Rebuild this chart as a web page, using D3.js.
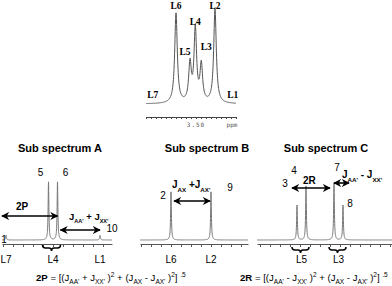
<!DOCTYPE html>
<html>
<head>
<meta charset="utf-8">
<script src="https://cdn.jsdelivr.net/npm/d3@7"></script>
<style>
body { margin: 0; background: #fff; }
text { white-space: pre; }
</style>
</head>
<body>
<script>
// full AA'XX' multiplet: line names, shift (ppm), intensity
var topLines = ["L7", "L6", "L5", "L4", "L3", "L2", "L1"];
var topShift = [3.5866, 3.540, 3.512, 3.5014, 3.4894, 3.462, 3.4266];
var topHeight = [0, 90, 38, 73, 37, 94, 0];
var topTicks = [3.50];

// sub spectra: transition numbers, position (Hz from centre), intensity
var subALines = ["1", "5", "6", "10"];
var subAPos = [-47, -4.5, 4.5, 47];
var subAInt = [0.08, 1, 1, 0.08];
var subALabels = ["L7", "L4", "L1"];
var subALabelPos = [-47, 0, 47];

var subBLines = ["2", "9"];
var subBPos = [-20, 20];
var subBInt = [0.83, 0.83];
var subBLabels = ["L6", "L2"];
var subBLabelPos = [-20, 20];

var subCLines = ["3", "4", "7", "8"];
var subCPos = [-23, -14, 14, 23];
var subCInt = [0.6, 0.93, 0.98, 0.6];
var subCLabels = ["L5", "L3"];
var subCLabelPos = [-18.5, 18.5];

var titles = ["Sub spectrum A", "Sub spectrum B", "Sub spectrum C"];

var W = 392, H = 286;
var sans = "Arial, 'Liberation Sans', sans-serif";
var serif = "'Times New Roman', 'Liberation Serif', serif";

var svg = d3.select("body").append("svg")
    .attr("width", W)
    .attr("height", H);

var defs = svg.append("defs");
defs.append("marker")
    .attr("id", "arr")
    .attr("viewBox", "0 0 10 10")
    .attr("refX", 9)
    .attr("refY", 5)
    .attr("markerWidth", 5)
    .attr("markerHeight", 5)
    .attr("orient", "auto-start-reverse")
    .append("path")
    .attr("d", "M0,0L10,5L0,10L3,5Z")
    .style("fill", "#000");

// lorentzian sum sampled over the domain (plus exact peak tops)
function lineshape(pos, ints, w, domain, step) {
    var xs = d3.range(domain[0], domain[1] + step / 2, step).concat(pos);
    xs.sort(function (a, b) { return a - b; });
    return xs.map(function (x) {
        var y = 0;
        pos.forEach(function (p, i) {
            var d = (x - p) / w;
            y += ints[i] / (1 + d * d);
        });
        return [x, y];
    });
}

function rich(sel, x, y, parts, size, opts) {
    opts = opts || {};
    var sub = opts.sub || 0.68;
    var t = sel.append("text")
        .attr("x", x)
        .attr("y", y)
        .style("font-family", opts.family || sans)
        .style("font-size", size + "px")
        .style("font-weight", opts.weight || "normal")
        .style("fill", "#000");
    if (opts.anchor) t.attr("text-anchor", opts.anchor);
    var shift = 0;
    parts.forEach(function (p) {
        var target = p[1] === "sub" ? size * 0.35 : p[1] === "sup" ? -size * 0.4 : 0;
        var ts = t.append("tspan").attr("dy", target - shift).text(p[0]);
        if (p[1]) ts.style("font-size", (size * sub) + "px");
        if (p[2]) ts.style("font-weight", p[2]);
        shift = target;
    });
    return t;
}

function arrow(sel, x1, x2, y) {
    sel.append("line")
        .attr("x1", x1).attr("x2", x2)
        .attr("y1", y).attr("y2", y)
        .attr("marker-start", "url(#arr)")
        .attr("marker-end", "url(#arr)")
        .style("stroke", "#000")
        .style("stroke-width", 1.6);
}

function brace(sel, x0, x1, y) {
    var m = (x0 + x1) / 2;
    sel.append("path")
        .attr("d", "M" + x0 + "," + y + "q0,3 3,3L" + (m - 2.5) + "," + (y + 3) +
            "q2.5,0 2.5,3q0,-3 2.5,-3L" + (x1 - 3) + "," + (y + 3) + "q3,0 3,-3")
        .style("fill", "none")
        .style("stroke", "#000")
        .style("stroke-width", 1.5);
}

// ---- top: full spectrum ----
var xTop = d3.scaleLinear().domain([3.60, 3.42]).range([146, 236]);
var yTop = d3.scaleLinear().domain([0, 100]).range([104, 4]);

var topG = svg.append("g");
var topPts = lineshape(topShift, topHeight, 0.0031, [3.42, 3.60], 0.0004);
topG.append("path")
    .datum(topPts)
    .attr("d", d3.line().x(function (d) { return xTop(d[0]); }).y(function (d) { return yTop(d[1]); }))
    .style("fill", "none")
    .style("stroke", "#555")
    .style("stroke-width", 1);

var topLabelDy = { L7: -6, L6: -5, L5: -11, L4: -3, L3: -17, L2: -1, L1: -6 };
var topLabelDx = { L7: 0, L6: 0, L5: -5, L4: 0, L3: 5, L2: 0, L1: 0 };
topLines.forEach(function (name, i) {
    var base = name === "L7" || name === "L1" ? yTop(0) : yTop(topHeight[i] + (name === "L4" ? 3 : 0));
    topG.append("text")
        .attr("x", xTop(topShift[i]) + topLabelDx[name])
        .attr("y", base + topLabelDy[name])
        .attr("text-anchor", "middle")
        .style("font-family", serif)
        .style("font-weight", "bold")
        .style("font-size", "9.5px")
        .text(name);
});

var topAxis = d3.axisBottom(xTop)
    .tickValues(d3.range(3.42, 3.6001, 0.01))
    .tickSize(2)
    .tickSizeOuter(0)
    .tickFormat("");
var ta = topG.append("g").attr("transform", "translate(0,117)").call(topAxis);
ta.selectAll("path,line").style("stroke", "#444");
topG.selectAll(".lbl")
    .data(topTicks)
    .enter().append("text")
    .attr("x", function (d) { return xTop(d); })
    .attr("y", 127)
    .attr("text-anchor", "middle")
    .style("font-family", "'DejaVu Sans Mono', monospace")
    .style("font-size", "6px")
    .style("letter-spacing", "1px")
    .style("fill", "#555")
    .text(function (d) { return d.toFixed(2); });
topG.append("text")
    .attr("x", 232)
    .attr("y", 127)
    .attr("text-anchor", "middle")
    .style("font-family", "'DejaVu Sans Mono', monospace")
    .style("font-size", "6px")
    .style("fill", "#555")
    .text("ppm");

// ---- sub spectra ----
var ySub = d3.scaleLinear().domain([0, 1]).range([240, 182]);
var panels = [
    { x: d3.scaleLinear().domain([-51, 59]).range([2, 112]), lines: subALines, pos: subAPos, ints: subAInt, labels: subALabels, lpos: subALabelPos, title: titles[0], tx: 60 },
    { x: d3.scaleLinear().domain([-51, 57]).range([140, 248]), lines: subBLines, pos: subBPos, ints: subBInt, labels: subBLabels, lpos: subBLabelPos, title: titles[1], tx: 207 },
    { x: d3.scaleLinear().domain([-63, 72]).range([257, 392]), lines: subCLines, pos: subCPos, ints: subCInt, labels: subCLabels, lpos: subCLabelPos, title: titles[2], tx: 326 }
];

// where each transition number sits relative to its peak top
var numOff = {
    "1": [-2, 8], "5": [-8, -6], "6": [8, -6], "10": [12, -3],
    "2": [-8, 7], "9": [19, -1],
    "3": [-12, -18], "4": [-12, -12], "7": [3, -12], "8": [7, 2]
};

panels.forEach(function (p) {
    var g = svg.append("g");
    g.append("text")
        .attr("x", p.tx)
        .attr("y", 152)
        .attr("text-anchor", "middle")
        .style("font-family", sans)
        .style("font-weight", "bold")
        .style("font-size", "11px")
        .text(p.title);

    var d = p.x.domain();
    g.append("path")
        .datum(lineshape(p.pos, p.ints, 0.45, d, 0.1))
        .attr("d", d3.line().x(function (e) { return p.x(e[0]); }).y(function (e) { return ySub(e[1]); }))
        .style("fill", "none")
        .style("stroke", "#777")
        .style("stroke-width", 1);

    var ax = d3.axisBottom(p.x)
        .tickValues(d3.range(Math.ceil(d[0] / 10) * 10, d[1], 10))
        .tickSize(3)
        .tickSizeOuter(0)
        .tickFormat("");
    var a = g.append("g").attr("transform", "translate(0,244)").call(ax);
    a.selectAll("path,line").style("stroke", "#555");

    p.lines.forEach(function (n, i) {
        var o = numOff[n];
        g.append("text")
            .attr("x", p.x(p.pos[i]) + o[0])
            .attr("y", ySub(p.ints[i]) + o[1])
            .attr("text-anchor", "middle")
            .style("font-family", sans)
            .style("font-size", "10px")
            .text(n);
    });

    p.labels.forEach(function (n, i) {
        g.append("text")
            .attr("x", p.x(p.lpos[i]))
            .attr("y", 263)
            .attr("text-anchor", "middle")
            .style("font-family", sans)
            .style("font-size", "10px")
            .text(n);
    });
    p.g = g;
});

// sub spectrum A annotations
var A = panels[0], B = panels[1], C = panels[2];
arrow(A.g, 2, A.x(A.pos[2]), 216);
rich(A.g, 16, 210, [["2P"]], 10, { weight: "bold" });
arrow(A.g, A.x(A.pos[2]) + 3, A.x(A.pos[3]), 230);
rich(A.g, 69, 220, [["J"], ["AA'", "sub"], [" + J"], ["XX'", "sub"]], 9.5, { weight: "bold", sub: 0.58 });
brace(A.g, A.x(A.pos[1]) - 6, A.x(A.pos[2]) + 3, 245);

// sub spectrum B annotations
arrow(B.g, B.x(B.pos[0]) + 3, B.x(B.pos[1]) - 1, 201);
rich(B.g, 172, 188, [["J"], ["AX", "sub"], [" +J"], ["AX'", "sub"]], 10, { weight: "bold", sub: 0.62 });

// sub spectrum C annotations
arrow(C.g, C.x(C.pos[0]) - 5, C.x(C.pos[2]) - 4, 188);
rich(C.g, 303, 184, [["2R"]], 10, { weight: "bold" });
arrow(C.g, C.x(C.pos[2]), C.x(C.pos[3]) + 6, 183);
rich(C.g, 342, 178, [["J"], ["AA'", "sub"], [" - J"], ["XX'", "sub"]], 10, { weight: "bold", sub: 0.62 });
brace(C.g, C.x(C.pos[0]) - 5, C.x(C.pos[1]) + 3, 247);
brace(C.g, C.x(C.pos[2]) - 5, C.x(C.pos[3]) + 3, 247);

// formulas
rich(svg, 36, 281, [["2P", null, "bold"], [" = [(J"], ["AA'", "sub"], [" + J"], ["XX'", "sub"], [" )"], ["2", "sup"],
    [" + (J"], ["AX", "sub"], [" - J"], ["AX'", "sub"], [" )"], ["2", "sup"], ["] "], [".5", "sup"]], 9.6);
rich(svg, 240, 281, [["2R", null, "bold"], [" = [(J"], ["AA'", "sub"], [" - J"], ["XX'", "sub"], [" )"], ["2", "sup"],
    [" + (J"], ["AX", "sub"], [" - J"], ["AX'", "sub"], [" )"], ["2", "sup"], ["] "], [".5", "sup"]], 9.6);
</script>
</body>
</html>
